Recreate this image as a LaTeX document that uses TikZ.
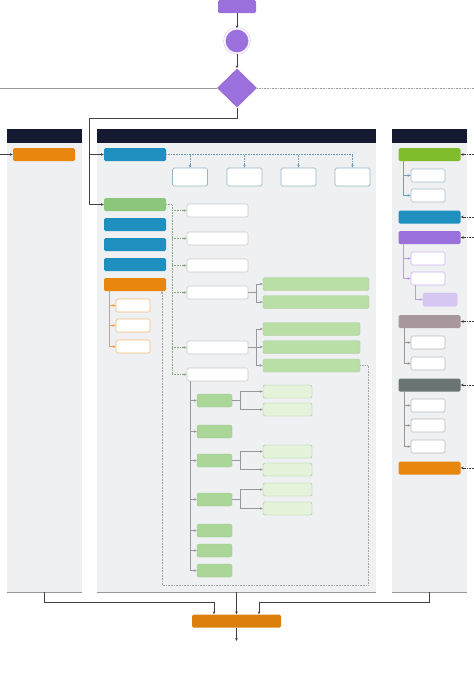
\documentclass[tikz,border=0pt]{standalone}
\usetikzlibrary{arrows.meta,shapes.geometric,calc}
\definecolor{purp}{RGB}{155,112,221}
\definecolor{navy}{RGB}{21,26,50}
\definecolor{lanegray}{RGB}{238,240,242}
\definecolor{bluebox}{RGB}{31,143,192}
\definecolor{greenbox}{RGB}{140,198,122}
\definecolor{orangebox}{RGB}{232,134,14}
\definecolor{limebox}{RGB}{128,189,45}
\definecolor{lilac}{RGB}{213,199,242}
\definecolor{mauve}{RGB}{168,152,157}
\definecolor{slate}{RGB}{106,116,117}
\definecolor{gwide}{RGB}{185,223,167}
\definecolor{gsmall}{RGB}{170,214,152}
\definecolor{glight}{RGB}{228,243,218}
\definecolor{linegray}{RGB}{150,152,154}
\definecolor{bluegray}{RGB}{112,158,180}
\tikzset{
	lane/.style={fill=lanegray,inner sep=0,minimum width=#1,minimum height=449pt},
	lanehead/.style={fill=navy,inner sep=0,minimum width=#1,minimum height=14pt},
	box/.style={rectangle,rounded corners=1.5pt,inner sep=0,minimum height=13pt,minimum width=#1},
	box/.default=62pt,
	bar/.style={box,fill=#1},
	sub/.style={box=34pt,fill=white,draw=#1,line width=0.7pt},
	cell/.style={box=61pt,fill=white,draw=#1,line width=0.7pt},
	arr/.style={-{Stealth[length=3pt,width=2.6pt]},draw=#1,line width=0.6pt},
	arr/.default=linegray,
	dotarr/.style={arr=#1,densely dotted},
	dotarr/.default=linegray,
	link/.style={draw=#1,line width=0.6pt},
	link/.default=linegray,
	dotlink/.style={link=#1,densely dotted}
}
\begin{document}
\begin{tikzpicture}[x=1pt,y=-1pt]
\useasboundingbox (0,0) rectangle (474,678);

%%%% lanes
\node[lane=75pt] (laneL) at (44.5,367.5) {};
\node[lane=279pt] (laneM) at (236.5,367.5) {};
\node[lane=75pt] (laneR) at (429.5,367.5) {};
\node[lanehead=75pt] (headL) at (44.5,136) {};
\node[lanehead=279pt] (headM) at (236.5,136) {};
\node[lanehead=75pt] (headR) at (429.5,136) {};
\foreach \l in {laneL,laneM,laneR}
	\draw[linegray,line width=0.8pt] (\l.south west) -- (\l.south east);

%%%% start, merge, choice
\node[box=38pt,fill=purp] (start) at (237,6.5) {};
\node[circle,fill=purp,minimum size=25pt,inner sep=0,draw=purp!45,double=white,double distance=1.3pt,line width=0.5pt] (merge) at (237,41) {};
\node[diamond,fill=purp,minimum width=40pt,minimum height=39pt,inner sep=0] (choice) at (237,88) {};
\draw[arr=darkgray] (start) -- (merge);
\draw[arr=darkgray] (merge) -- (choice);

\coordinate (exitL) at (0,88);
\coordinate (exitR) at (474,88);
\draw[link] (choice.west) -- (exitL);
\draw[dotlink=linegray] (choice.east) -- (exitR);

%%%% left lane
\node[bar=orangebox] (oL) at (44,154.5) {};
\coordinate (inL) at (0,154.5);
\draw[arr=darkgray] (inL) -- (oL);

%%%% middle lane
\node[bar=bluebox] (bM1) at (135,154.5) {};
\node[bar=greenbox] (gM) at (135,204.5) {};
\node[bar=bluebox] (bM2) at (135,224.5) {};
\node[bar=bluebox] (bM3) at (135,244.5) {};
\node[bar=bluebox] (bM4) at (135,264.5) {};
\node[bar=orangebox] (oM) at (135,284.5) {};

\coordinate (split) at (89,118);
\draw[arr=darkgray] (choice.south) |- (split) |- (gM);
\draw[arr=darkgray] (split |- bM1) -- (bM1);

% top row
\foreach \n/\x in {t1/190,t2/244.5,t3/298.5,t4/352.5}
	\node[sub=bluegray!75,minimum width=35pt,minimum height=18pt] (\n) at (\x,177) {};
\draw[dotlink=bluegray] (bM1.east) -- (bM1.east -| t4);
\foreach \n in {t1,t2,t3,t4}
	\draw[dotarr=bluegray] (\n |- bM1) -- (\n.north);

% orange sub list
\foreach \n/\y in {os1/305.5,os2/325.5,os3/346.5}
	\node[sub=orangebox!55] (\n) at (133,\y) {};
\coordinate (obus) at (109,291);
\foreach \n in {os1,os2,os3}
	\draw[arr=orangebox!80] (obus) |- (\n);

% white column
\foreach \n/\y in {w1/210.5,w2/238.5,w3/265.5,w4/292.5,w5/347.5,w6/374.5}
	\node[cell=linegray!50] (\n) at (217.5,\y) {};
\coordinate (gbus) at (172,204.5);
\draw[dotlink=greenbox!60!gray] (gM.east) -- (gbus) -- (gbus |- w6);
\foreach \n in {w1,w2,w3,w4,w5,w6}
	\draw[dotarr=greenbox!60!gray] (gbus |- \n) -- (\n);

% wide green
\foreach \n/\y in {gw1/284,gw2/302}
	\node[box=106pt,fill=gwide,draw=gwide!80!gray,line width=0.4pt] (\n) at (316,\y) {};
\foreach \n/\y in {gw3/329,gw4/347,gw5/365.5}
	\node[box=97pt,fill=gwide,draw=gwide!80!gray,line width=0.4pt] (\n) at (311.5,\y) {};
\coordinate (br1) at (256,292.5);
\coordinate (br2) at (256,347.5);
\draw[link] (w4) -- (br1);
\draw[link] (w5) -- (br2);
\foreach \n in {gw1,gw2}
	\draw[arr] (br1) |- (\n);
\foreach \n in {gw3,gw4,gw5}
	\draw[arr] (br2) |- (\n);

% dotted loop back to orange
\coordinate (lp1) at (368,585);
\coordinate (lp2) at (162,585);
\draw[dotarr=linegray!90] (gw5.east) -| (lp1) -- (lp2) -- (lp2 |- oM.south);

% small and light green
\foreach \n/\y in {sg1/400.5,sg2/431.5,sg3/460.5,sg4/499.5,sg5/530.5,sg6/550.5,sg7/570.5}
	\node[box=35pt,fill=gsmall,draw=gsmall!85!gray,line width=0.4pt] (\n) at (214.5,\y) {};
\foreach \n/\y in {lg1/391.5,lg2/409.5,lg3/451.5,lg4/469.5,lg5/489.5,lg6/508.5}
	\node[box=49pt,fill=glight,draw=gsmall!80!gray,line width=0.4pt] (\n) at (287.5,\y) {};
\coordinate (sbus) at (190,381);
\foreach \n in {sg1,sg2,sg3,sg4,sg5,sg6,sg7}
	\draw[arr] (sbus) |- (\n);
\foreach \s/\a/\b in {sg1/lg1/lg2,sg3/lg3/lg4,sg4/lg5/lg6}{
	\draw[link] (\s.east) -- ++(8,0) coordinate (k\s);
	\draw[arr] (k\s) |- (\a);
	\draw[arr] (k\s) |- (\b);
}

%%%% right lane
\node[bar=limebox] (rLime) at (429.5,154.5) {};
\node[bar=bluebox] (rBlue) at (429.5,217) {};
\node[bar=purp] (rPurp) at (429.5,237.5) {};
\node[bar=mauve] (rMauve) at (429.5,321.5) {};
\node[bar=slate] (rSlate) at (429.5,385) {};
\node[bar=orangebox] (rOrange) at (429.5,468) {};
\foreach \n in {rLime,rBlue,rPurp,rMauve,rSlate,rOrange}
	\draw[dotarr=darkgray] (474,0 |- \n) -- (\n);

\foreach \n/\y in {rw1/175.5,rw2/195.5}
	\node[sub=bluegray!65] (\n) at (428,\y) {};
\foreach \n/\y in {rw3/258.5,rw4/278.5}
	\node[sub=purp!50] (\n) at (428,\y) {};
\foreach \n/\y in {rw5/342.5,rw6/363.5,rw7/405.5,rw8/425.5,rw9/446.5}
	\node[sub=linegray!65] (\n) at (428,\y) {};
\node[box=34pt,fill=lilac,draw=purp!45,line width=0.5pt] (rLilac) at (440,299.5) {};

\coordinate (rbus1) at (403,161);
\coordinate (rbus2) at (403,244);
\coordinate (rbus3) at (404,328);
\coordinate (rbus4) at (404,391.5);
\coordinate (rbus5) at (415,285);
\foreach \n in {rw1,rw2}
	\draw[arr=bluegray] (rbus1) |- (\n);
\foreach \n in {rw3,rw4}
	\draw[arr=purp!70] (rbus2) |- (\n);
\draw[arr=purp!70] (rbus5) |- (rLilac);
\foreach \n in {rw5,rw6}
	\draw[arr] (rbus3) |- (\n);
\foreach \n in {rw7,rw8,rw9}
	\draw[arr] (rbus4) |- (\n);

%%%% end
\node[box=89pt,fill=orangebox!95!black] (finish) at (236.5,621) {};
\coordinate (jL) at (44.5,602);
\coordinate (jR) at (429.5,602);
\coordinate (done) at (236.5,641);
\draw[arr=darkgray] (laneL.south) -- (jL) -| ([xshift=-22.5pt]finish.north);
\draw[arr=darkgray] (laneR.south) -- (jR) -| ([xshift=22.5pt]finish.north);
\draw[arr=darkgray] (laneM.south) -- (finish);
\draw[arr=darkgray] (finish) -- (done);
\end{tikzpicture}
\end{document}
